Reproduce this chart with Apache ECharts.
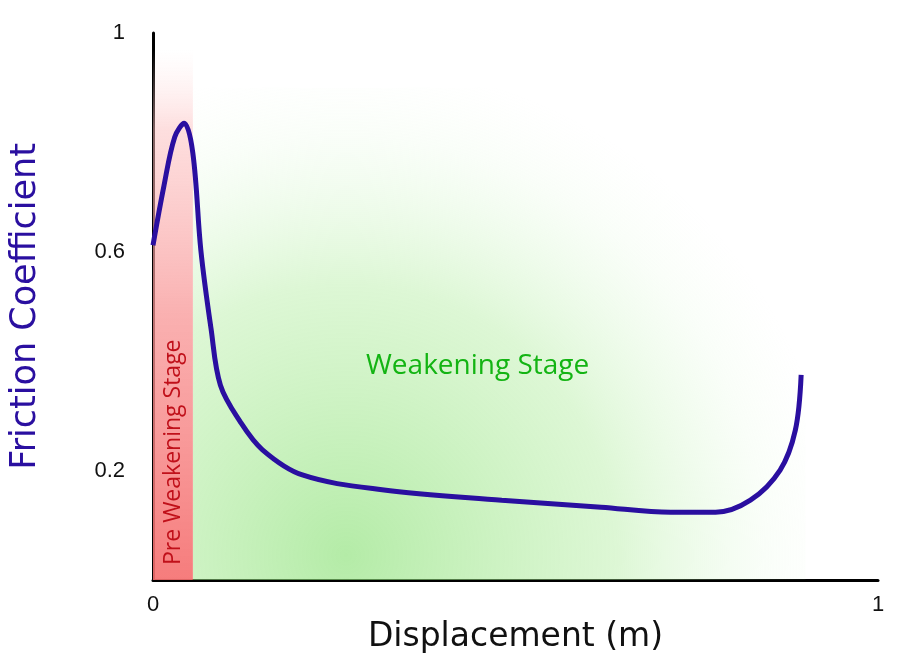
<!doctype html>
<html>
<head>
<meta charset="UTF-8">
<script src="https://cdn.jsdelivr.net/npm/echarts@6/dist/echarts.min.js"></script>
<style>html,body{margin:0;background:#fff}#main{width:906px;height:661px}</style>
</head>
<body>
<div id="main"></div>
<script>
var displacement = [0, 0.015, 0.03, 0.043, 0.055, 0.066, 0.08, 0.093, 0.12, 0.151, 0.206, 0.316, 0.481, 0.618, 0.714, 0.776, 0.824, 0.865, 0.886, 0.894];
var friction = [0.612, 0.72, 0.81, 0.835, 0.78, 0.603, 0.46, 0.356, 0.29, 0.238, 0.192, 0.165, 0.146, 0.133, 0.124, 0.124, 0.146, 0.201, 0.274, 0.375];
var yLabels = [0.2, 0.6, 1];
var xLabels = [0, 1];

var chart = echarts.init(document.getElementById('main'));
chart.setOption({
  animation: false,
  grid: { left: 150, right: 28, top: 33, bottom: 81 },
  xAxis: {
    type: 'value', min: 0, max: 1, interval: 1,
    name: 'Displacement (m)', nameLocation: 'middle', nameGap: 28,
    nameTextStyle: { fontSize: 33, color: '#111', fontFamily: 'DejaVu Sans' },
    axisLine: { lineStyle: { color: '#000', width: 3 } },
    axisTick: { show: false }, splitLine: { show: false },
    axisLabel: { fontSize: 22, color: '#111', fontFamily: 'Liberation Sans', margin: 14,
      formatter: function (v) { return xLabels.indexOf(v) > -1 ? String(v) : ''; } }
  },
  yAxis: {
    type: 'value', min: 0, max: 1, interval: 0.2,
    name: 'Friction Coefficient', nameLocation: 'middle', nameGap: 110,
    nameTextStyle: { fontSize: 35, color: '#2a0fa0', fontFamily: 'DejaVu Sans' },
    axisLine: { show: true, lineStyle: { color: '#000', width: 3 } },
    axisTick: { show: false }, splitLine: { show: false },
    axisLabel: { fontSize: 22, color: '#111', fontFamily: 'Liberation Sans', margin: 28,
      formatter: function (v) {
        v = Math.round(v * 10) / 10;
        return yLabels.indexOf(v) > -1 ? String(v) : '';
      } }
  },
  series: [{
    type: 'line', smooth: 0.35, symbol: 'none',
    data: displacement.map(function (x, i) { return [x, friction[i]]; }),
    lineStyle: { color: '#2a0fa0', width: 5 },
    z: 5,
    markArea: {
      silent: true,
      data: [
        [{ xAxis: 0.055, yAxis: 0, itemStyle: { color: {
            type: 'radial', x: 0.25, y: 0.95, r: 1.0,
            colorStops: [{ offset: 0, color: 'rgba(140,225,120,0.65)' }, { offset: 0.55, color: 'rgba(170,235,150,0.4)' }, { offset: 0.85, color: 'rgba(200,245,190,0.1)' }, { offset: 1, color: 'rgba(220,250,210,0)' }] } } },
         { xAxis: 0.9, yAxis: 0.9 }],
        [{ xAxis: 0, yAxis: 0, itemStyle: { color: {
            type: 'linear', x: 0, y: 1, x2: 0, y2: 0,
            colorStops: [{ offset: 0, color: 'rgba(245,110,110,0.9)' }, { offset: 0.5, color: 'rgba(248,150,150,0.75)' }, { offset: 0.85, color: 'rgba(252,190,190,0.5)' }, { offset: 1, color: 'rgba(255,220,220,0)' }] } } },
         { xAxis: 0.055, yAxis: 0.97 }]
      ]
    }
  }],
  graphic: [
    { type: 'text', z: 100, left: 366, top: 352, style: { text: 'Weakening Stage', font: '28px "Open Sans"', fill: '#13b413' } },
    { type: 'text', z: 100, x: 162, y: 565, rotation: Math.PI / 2, style: { text: 'Pre Weakening Stage', font: '23px "Open Sans"', fill: '#c0101a' } }
  ]
});
</script>
</body>
</html>
